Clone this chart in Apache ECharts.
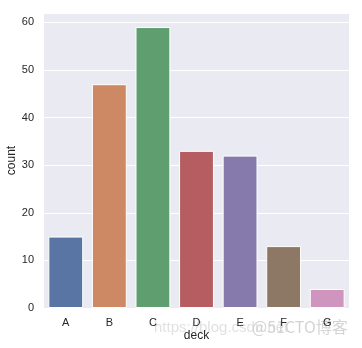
<!DOCTYPE html>
<html>
<head>
<meta charset="utf-8">
<script src="https://cdn.jsdelivr.net/npm/echarts@6/dist/echarts.min.js"></script>
<style>
  html, body { margin: 0; padding: 0; background: #fff; }
  #chart { width: 362px; height: 348px; }
</style>
</head>
<body>
<div id="chart"></div>
<script>
// deck counts, seaborn countplot
const decks = ['A', 'B', 'C', 'D', 'E', 'F', 'G']
const counts = [15, 47, 59, 33, 32, 13, 4]
const barColors = ['#5975A4', '#CC8963', '#5F9E6E', '#B55D60', '#857AAB', '#8D7866', '#D095BF']
const yTicks = [0, 10, 20, 30, 40, 50, 60]

const chart = echarts.init(document.getElementById('chart'))

chart.setOption({
  animation: false,
  textStyle: { fontFamily: 'Liberation Sans, Arial, sans-serif' },
  grid: {
    left: 44,
    right: 13,
    top: 13,
    bottom: 40,
    containLabel: false,
    outerBoundsMode: 'none',
    show: true,
    backgroundColor: '#EAEAF2',
    borderWidth: 0
  },
  xAxis: {
    type: 'category',
    data: decks,
    name: 'deck',
    nameLocation: 'middle',
    nameGap: 22,
    nameMoveOverlap: false,
    nameTextStyle: { color: '#262626', fontSize: 12 },
    axisLine: { show: false },
    axisTick: { show: false },
    axisLabel: { color: '#262626', fontSize: 11, margin: 9 }
  },
  yAxis: {
    type: 'value',
    min: 0,
    max: 61.95,
    interval: 10,
    name: 'count',
    nameLocation: 'middle',
    nameGap: 26,
    nameMoveOverlap: false,
    nameTextStyle: { color: '#262626', fontSize: 12 },
    axisLine: { show: false },
    axisTick: { show: false },
    axisLabel: {
      color: '#262626',
      fontSize: 11,
      margin: 10,
      formatter: v => (yTicks.includes(v) ? String(v) : '')
    },
    splitLine: { lineStyle: { color: '#ffffff', width: 1 } }
  },
  series: [{
    type: 'bar',
    barCategoryGap: '20%',
    data: counts.map((v, i) => ({
      value: v,
      itemStyle: { color: barColors[i], borderColor: '#ffffff', borderWidth: 1 }
    }))
  }],
  graphic: [
    {
      type: 'text',
      left: 154,
      top: 320,
      silent: true,
      style: { text: 'https://blog.csdn.net', fill: 'rgba(200,200,200,0.55)', fontSize: 15, fontFamily: 'Liberation Sans, sans-serif' }
    },
    {
      type: 'text',
      left: 252,
      top: 319,
      silent: true,
      style: { text: '@51CTO博客', fill: 'rgba(205,205,205,0.85)', fontSize: 16, fontFamily: 'Noto Sans CJK SC, sans-serif' }
    }
  ]
})
</script>
</body>
</html>
